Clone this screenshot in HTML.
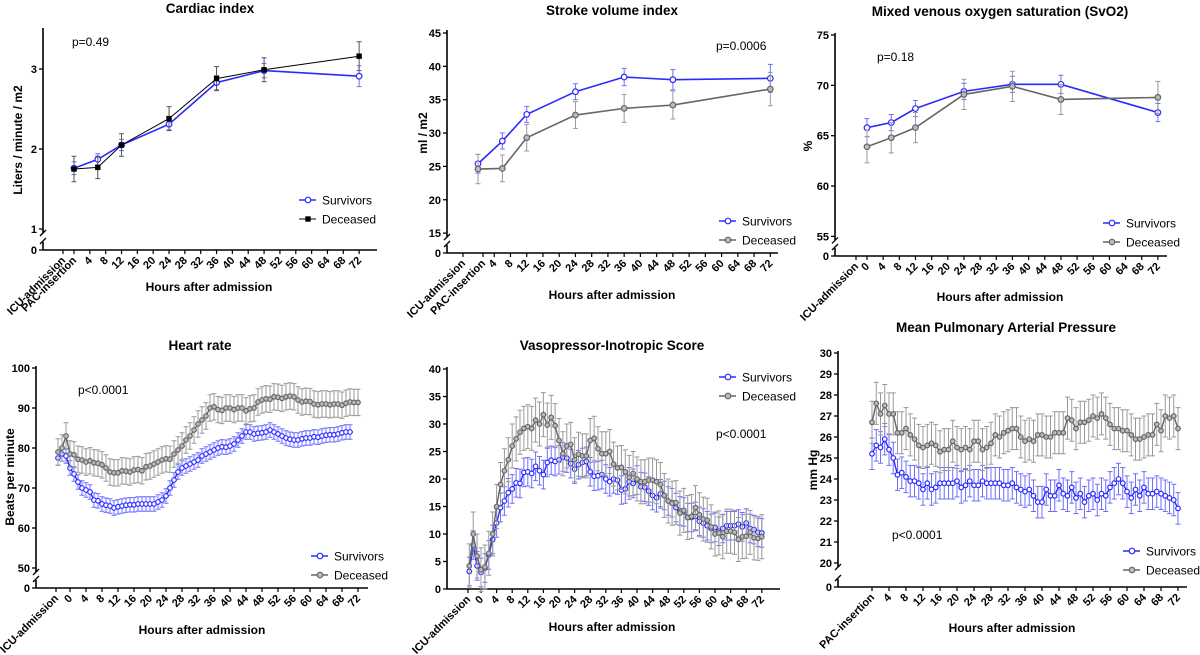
<!DOCTYPE html>
<html><head><meta charset="utf-8"><style>
html,body{margin:0;padding:0;background:#fff;}
svg{display:block;font-family:"Liberation Sans",Arial,sans-serif;}
.t{font-weight:bold;font-size:13.5px;text-anchor:middle;}
.at{font-weight:bold;font-size:12px;text-anchor:middle;}
.tk{font-weight:bold;font-size:11px;}
.lg{font-size:12px;}
</style></head><body>
<svg id="chart" width="1200" height="655" viewBox="0 0 1200 655"></svg>
<script>
// ---------- data ----------
const sparseHours = [0, 6, 12, 24, 36, 48, 72];
const ciSurv = [1.76, 1.87, 2.05, 2.31, 2.83, 2.98, 2.91];
const ciSurvErr = [0.08, 0.07, 0.07, 0.07, 0.09, 0.09, 0.13];
const ciDec = [1.75, 1.77, 2.05, 2.38, 2.88, 2.99, 3.16];
const ciDecErr = [0.16, 0.14, 0.14, 0.15, 0.15, 0.15, 0.18];
const sviSurv = [25.4, 28.8, 32.8, 36.2, 38.4, 38.0, 38.2];
const sviSurvErr = [1.4, 1.2, 1.2, 1.2, 1.3, 1.5, 2.1];
const sviDec = [24.6, 24.7, 29.3, 32.7, 33.7, 34.2, 36.6];
const sviDecErr = [2.2, 2.0, 2.0, 2.0, 2.1, 2.1, 2.5];
const svoSurv = [65.8, 66.3, 67.7, 69.4, 70.1, 70.1, 67.3];
const svoSurvErr = [0.9, 0.8, 0.8, 0.8, 0.8, 0.9, 0.9];
const svoDec = [63.9, 64.8, 65.8, 69.1, 69.9, 68.6, 68.8];
const svoDecErr = [1.6, 1.5, 1.5, 1.5, 1.5, 1.5, 1.6];

const hrStartHour = -3;
const hrSurv = [77.5,78.5,78,75,73.5,71.5,70,69.5,69,67,66.8,66,65.7,65.5,65,65.3,65.5,65.7,65.8,65.8,66,66,66,66,66,66.5,67,68,70,72,74,75,75.5,76,76.5,77,78,78.5,79,79.5,80,80.3,80.2,80.5,81,82,83,84,84,83.5,83.7,83.8,84,84.5,84,83.5,83,82.5,82.2,82,82,82.3,82.5,82.5,82.8,82.7,83,83.2,83.3,83.3,83.5,83.8,84,84];
const hrDec = [79,80,83,78.5,78.3,77.2,77,76.5,76.8,76.3,76.2,75.8,75,74,73.8,73.8,74.3,74.2,74,74.5,74.6,74.3,75.3,75.5,76,76.5,77,77.3,77.2,78.5,79.5,80.5,82,83,84.5,86,87,88,90,90.3,89.6,89.4,90,90,89.6,90,90,89.3,89.8,90,91.5,92,92.3,92.2,92.8,92.7,92.4,92.8,93,92.8,92,91.5,91.7,91.6,91,90.8,91,91,90.8,91,91,90.7,91.2,91.5,91.4,91.4];

const visStartHour = -3;
const visSurv = [3.2,8,4.2,3,3.8,6.2,9,12,14.8,16,17.5,18.2,19.3,19.2,21.2,21.3,21,22.3,21.5,20.8,23,23.4,23.2,23.5,24,23.8,22.8,21.8,22.6,23,23.2,21.3,20.5,20.6,20.8,20,19.5,20,19.8,18,18.2,19.5,19.2,19.8,18.6,18.5,17.8,17,16.6,17.3,17,16,15.7,14.8,14.2,14,13,13,13.2,12.3,12,11.5,11,11.2,10.5,11,11.5,11.5,11.5,11.8,11.3,12,11,10.8,10.3,10.2];
const visDec = [4.2,10,6,3.5,4,6.5,10,15,19,21.5,23.5,26,27.3,28.5,29.2,29.5,29.2,30.7,30,31.7,29.8,31.2,29.7,27,24.6,26,26.3,23.5,24.5,24.2,24.2,27,27.4,25.5,24.6,24.6,25,22.7,22,22.1,21.3,20.3,21,20,19.5,19.5,19.8,19.8,19.5,19,17,16,15.6,15.7,13.8,14.3,13,13.2,14.8,13.5,12.7,12.5,11.3,10,10.2,9.5,10.5,10.5,10.3,9,9.5,9.6,10.3,9.3,9.2,9.5];

const papStartHour = 0;
const papSurv = [25.2,25.6,25.5,25.9,25.4,25,24.2,24.3,24.1,23.9,23.9,23.8,23.5,23.8,23.5,23.6,23.8,23.8,23.8,23.8,23.9,23.6,23.7,23.9,23.7,23.7,23.9,23.8,23.8,23.8,23.8,23.7,23.7,23.8,23.6,23.5,23.4,23.5,23.2,22.9,22.9,23.5,23.2,23.2,23.7,23.3,23.2,23.6,23.1,23.3,22.9,23.2,23.3,23,23.3,23.2,23.6,23.8,24,23.8,23.4,23.1,23.5,23.2,23.6,23.3,23.3,23.4,23.3,23.2,23.1,23,22.6];
const papDec = [26.7,27.6,27.1,27.5,27.1,27.1,26.2,26.2,26.4,26.1,25.9,25.6,25.5,25.6,25.7,25.6,25.3,25.4,25.4,25.8,25.5,25.4,25.5,25.4,25.8,25.8,25.4,25.5,25.7,26.1,26,26.2,26.3,26.4,26.4,26,25.8,25.9,25.8,26.1,26.1,26,26,26.2,26.2,26.2,26.9,26.8,26.4,26.7,26.7,26.8,27,26.9,27.1,26.9,26.6,26.4,26.4,26.3,26.3,26.1,25.9,25.9,26,26.1,26.1,26.6,26.3,27,26.9,27,26.4];

const hourTicks4 = [4,8,12,16,20,24,28,32,36,40,44,48,52,56,60,64,68,72];
const hourTicks0 = [0,4,8,12,16,20,24,28,32,36,40,44,48,52,56,60,64,68,72];
const ciYTicks = [1,2,3];
const sviYTicks = [15,20,25,30,35,40,45];
const svoYTicks = [55,60,65,70,75];
const hrYTicks = [50,60,70,80,90,100];
const visYTicks = [0,5,10,15,20,25,30,35,40];
const papYTicks = [20,21,22,23,24,25,26,27,28,29,30];

// ---------- drawing helpers ----------
const NS = 'http://www.w3.org/2000/svg';
const root = document.getElementById('chart');
function mk(tag, attrs, parent) {
  const e = document.createElementNS(NS, tag);
  for (const k in attrs) e.setAttribute(k, attrs[k]);
  (parent || root).appendChild(e);
  return e;
}
function txt(s, attrs, parent) { const e = mk('text', attrs, parent); e.textContent = s; return e; }
const BLUE = '#2a2aff', BLUE_E = '#6f6fff', GRAY = '#666', GRAY_E = '#999';

function drawPanel(p) {
  const g = mk('g', {});
  
  
  const t = txt(p.title, {x: p.tx, y: p.ty, class: 't'}, g);
  
  
  // y axis
  const ya = mk('g', {}, g);
  
  
  const lowY = p.yf(p.yTicks[0]);
  if (p.brk) {
    mk('line', {x1: p.ax, y1: p.top, x2: p.ax, y2: lowY + 4, stroke: '#000', 'stroke-width': 1.6}, ya);
    mk('line', {x1: p.ax, y1: p.y0 - 8, x2: p.ax, y2: p.y0, stroke: '#000', 'stroke-width': 1.6}, ya);
    mk('line', {x1: p.ax - 3, y1: lowY + 7, x2: p.ax + 3, y2: lowY + 1, stroke: '#000', 'stroke-width': 1.3}, ya);
    mk('line', {x1: p.ax - 3, y1: p.y0 - 6, x2: p.ax + 3, y2: p.y0 - 12, stroke: '#000', 'stroke-width': 1.3}, ya);
    mk('line', {x1: p.ax - 4, y1: p.y0, x2: p.ax, y2: p.y0, stroke: '#000', 'stroke-width': 1.3}, ya);
    txt('0', {x: p.ax - 6, y: p.y0 + 4, class: 'tk', 'text-anchor': 'end'}, ya);
  } else {
    mk('line', {x1: p.ax, y1: p.top, x2: p.ax, y2: p.y0, stroke: '#000', 'stroke-width': 1.6}, ya);
  }
  p.yTicks.forEach(v => {
    const y = p.yf(v);
    mk('line', {x1: p.ax - 4, y1: y, x2: p.ax, y2: y, stroke: '#000', 'stroke-width': 1.3}, ya);
    const l = txt(String(v), {x: p.ax - 6, y: y + 4, class: 'tk', 'text-anchor': 'end'}, ya);
    
    
  });
  if (p.ytitle) {
    const yt = txt(p.ytitle, {x: p.ytx, y: p.yty, class: 'at', transform: `rotate(-90 ${p.ytx} ${p.yty})`}, g);
    
    
  }
  // x axis
  const xa = mk('g', {}, g);
  
  
  mk('line', {x1: p.ax, y1: p.y0, x2: p.right, y2: p.y0, stroke: '#000', 'stroke-width': 1.6}, xa);
  const ticks = p.cats.map(c => ({x: c.x, label: c.label})).concat(p.hTicks.map(h => ({x: p.xf(h), label: String(h)})));
  ticks.forEach(tk => {
    mk('line', {x1: tk.x, y1: p.y0, x2: tk.x, y2: p.y0 + 4, stroke: '#000', 'stroke-width': 1.2}, xa);
    const lx = tk.x + 3, ly = p.y0 + 11;
    const l = txt(tk.label, {x: lx, y: ly, class: 'tk', 'text-anchor': 'end', transform: `rotate(-45 ${lx} ${ly})`}, xa);
    
    
  });
  const xt = txt('Hours after admission', {x: p.xtx, y: p.xty, class: 'at'}, g);
  
  
  // series
  p.series.forEach(s => {
    const sg = mk('g', {}, g);
    
    
    const hrs = s.vals.map((v, i) => s.hours ? s.hours[i] : s.start + i);
    const pts = s.vals.map((v, i) => [p.xf(hrs[i]), p.yf(v)]);
    s.vals.forEach((v, i) => {
      const x = pts[i][0], e = s.err ? s.err[i] : s.e;
      const y1 = p.yf(v + e), y2 = p.yf(v - e);
      const eb = mk('path', {d: `M${x},${y1}V${y2}M${x - 2.5},${y1}H${x + 2.5}M${x - 2.5},${y2}H${x + 2.5}`, stroke: s.ecol, 'stroke-width': 1, fill: 'none'}, sg);
      
      
    });
    const ln = mk('polyline', {points: pts.map(q => q.join(',')).join(' '), fill: 'none', stroke: s.col, 'stroke-width': s.lw}, sg);
    
    
    pts.forEach(q => {
      let m;
      if (s.square) m = mk('rect', {x: q[0] - 2.7, y: q[1] - 2.7, width: 5.4, height: 5.4, fill: '#000'}, sg);
      else m = mk('circle', {cx: q[0], cy: q[1], r: s.r, fill: s.mfill, stroke: s.col, 'stroke-width': 1.2}, sg);
      
      
    });
  });
  // legend
  const lg = mk('g', {}, g);
  
  
  p.series.forEach((s, i) => {
    const y = p.ly + i * 19, x = p.lx;
    const le = mk('g', {}, lg);
    
    
    mk('line', {x1: x - 9, y1: y, x2: x + 8, y2: y, stroke: s.col, 'stroke-width': s.lw}, le);
    if (s.square) mk('rect', {x: x - 2.7, y: y - 2.7, width: 5.4, height: 5.4, fill: '#000'}, le);
    else mk('circle', {cx: x, cy: y, r: 2.8, fill: s.mfill, stroke: s.col, 'stroke-width': 1.2}, le);
    txt(s.label, {x: x + 14, y: y + 4.5, class: 'lg'}, le);
  });
  const pv = txt(p.pval, {x: p.px, y: p.py, class: 'lg'}, g);
  
  
}

const survSparse = (vals, err, label) => ({key: 'survivors', label: 'Survivors', vals, err, hours: sparseHours, col: BLUE, ecol: BLUE_E, lw: 1.6, r: 2.8, mfill: '#fff'});
const decSparse = (vals, err) => ({key: 'deceased', label: 'Deceased', vals, err, hours: sparseHours, col: GRAY, ecol: GRAY_E, lw: 1.6, r: 2.8, mfill: '#bbb'});

drawPanel({name: 'cardiac-index-chart', title: 'Cardiac index', tx: 210, ty: 13,
  ax: 43, y0: 250, top: 28, right: 377, brk: true,
  xf: h => 74 + 3.96 * h, yf: v => 69 + (3 - v) * 80, yTicks: ciYTicks,
  cats: [{x: 63, label: 'ICU-admission'}, {x: 74, label: 'PAC-insertion'}], hTicks: hourTicks4,
  ytitle: 'Liters / minute / m2', ytx: 22, yty: 140, xtx: 209, xty: 291,
  series: [
    survSparse(ciSurv, ciSurvErr),
    {key: 'deceased', label: 'Deceased', vals: ciDec, err: ciDecErr, hours: sparseHours, col: '#000', ecol: '#555', lw: 1, square: true}
  ], lx: 308, ly: 200, pval: 'p=0.49', px: 72, py: 46});

drawPanel({name: 'stroke-volume-index-chart', title: 'Stroke volume index', tx: 612, ty: 15,
  ax: 447, y0: 253, top: 30, right: 778, brk: true,
  xf: h => 478 + 4.06 * h, yf: v => 33 + (45 - v) * 6.67, yTicks: sviYTicks,
  cats: [{x: 463, label: 'ICU-admission'}, {x: 483, label: 'PAC-insertion'}], hTicks: hourTicks4,
  ytitle: 'ml / m2', ytx: 427, yty: 133, xtx: 612, xty: 299,
  series: [survSparse(sviSurv, sviSurvErr), decSparse(sviDec, sviDecErr)],
  lx: 728, ly: 221, pval: 'p=0.0006', px: 716, py: 50});

drawPanel({name: 'svo2-chart', title: 'Mixed venous oxygen saturation (SvO2)', tx: 1000, ty: 16,
  ax: 835, y0: 256, top: 33, right: 1167, brk: true,
  xf: h => 867 + 4.04 * h, yf: v => 35 + (75 - v) * 10.07, yTicks: svoYTicks,
  cats: [{x: 856, label: 'ICU-admission'}], hTicks: hourTicks0,
  ytitle: '%', ytx: 812, yty: 146, xtx: 1000, xty: 301,
  series: [survSparse(svoSurv, svoSurvErr), decSparse(svoDec, svoDecErr)],
  lx: 1112, ly: 223, pval: 'p=0.18', px: 877, py: 61});

const survDense = (vals, start, e) => ({key: 'survivors', label: 'Survivors', vals, start, e, col: BLUE, ecol: BLUE_E, lw: 1.4, r: 2.3, mfill: '#fff'});
const decDense = (vals, start, e) => ({key: 'deceased', label: 'Deceased', vals, start, e, col: GRAY, ecol: GRAY_E, lw: 1.4, r: 2.3, mfill: '#bbb'});

drawPanel({name: 'heart-rate-chart', title: 'Heart rate', tx: 200, ty: 350,
  ax: 36, y0: 588, top: 366, right: 368, brk: true,
  xf: h => 70 + 4 * h, yf: v => 368 + (100 - v) * 4, yTicks: hrYTicks,
  cats: [{x: 56, label: 'ICU-admission'}], hTicks: hourTicks0,
  ytitle: 'Beats per minute', ytx: 14, yty: 477, xtx: 202, xty: 634,
  series: [survDense(hrSurv, hrStartHour, 1.8), decDense(hrDec, hrStartHour, 3.3)],
  lx: 320, ly: 556, pval: 'p<0.0001', px: 78, py: 394});

drawPanel({name: 'vasopressor-inotropic-score-chart', title: 'Vasopressor-Inotropic Score', tx: 612, ty: 350,
  ax: 447, y0: 589, top: 367, right: 780, brk: false,
  xf: h => 481 + 3.9 * h, yf: v => 589 - 5.5 * v, yTicks: visYTicks,
  cats: [{x: 468, label: 'ICU-admission'}], hTicks: hourTicks0,
  ytitle: null, xtx: 612, xty: 631,
  series: [survDense(visSurv, visStartHour, 2.6), decDense(visDec, visStartHour, 4)],
  lx: 728, ly: 377, pval: 'p<0.0001', px: 716, py: 438});

drawPanel({name: 'mean-pulmonary-arterial-pressure-chart', title: 'Mean Pulmonary Arterial Pressure', tx: 1006, ty: 332,
  ax: 838, y0: 587, top: 351, right: 1187, brk: true,
  xf: h => 872 + 4.25 * h, yf: v => 353 + (30 - v) * 21, yTicks: papYTicks,
  cats: [{x: 872, label: 'PAC-insertion'}], hTicks: hourTicks4,
  ytitle: 'mm Hg', ytx: 817, yty: 470, xtx: 1012, xty: 632,
  series: [survDense(papSurv, papStartHour, 0.75), decDense(papDec, papStartHour, 1.0)],
  lx: 1132, ly: 551, pval: 'p<0.0001', px: 892, py: 539});
</script>
</body></html>
